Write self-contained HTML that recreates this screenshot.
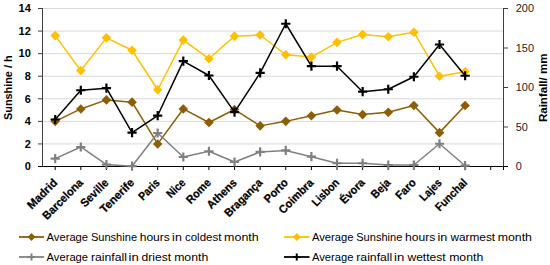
<!DOCTYPE html>
<html><head><meta charset="utf-8"><style>
html,body{margin:0;padding:0;background:#fff;}
body{width:550px;height:265px;overflow:hidden;}
svg{display:block;}
text{font-family:'Liberation Sans',sans-serif;}
</style></head><body>
<svg width="550" height="265" viewBox="0 0 550 265">
<rect width="550" height="265" fill="#fff"/>

<line x1="43" x2="503" y1="143.93" y2="143.93" stroke="#D9D9D9" stroke-width="1"/>
<line x1="43" x2="503" y1="121.36" y2="121.36" stroke="#D9D9D9" stroke-width="1"/>
<line x1="43" x2="503" y1="98.79" y2="98.79" stroke="#D9D9D9" stroke-width="1"/>
<line x1="43" x2="503" y1="76.21" y2="76.21" stroke="#D9D9D9" stroke-width="1"/>
<line x1="43" x2="503" y1="53.64" y2="53.64" stroke="#D9D9D9" stroke-width="1"/>
<line x1="43" x2="503" y1="31.07" y2="31.07" stroke="#D9D9D9" stroke-width="1"/>
<line x1="43" x2="503" y1="8.50" y2="8.50" stroke="#D9D9D9" stroke-width="1"/>
<line x1="42.5" x2="42.5" y1="8.0" y2="166.5" stroke="#404040" stroke-width="1"/>
<line x1="38" x2="42.5" y1="166.50" y2="166.50" stroke="#404040" stroke-width="1"/>
<text x="30.8" y="170.30" text-anchor="end" font-size="10.5" font-weight="bold" fill="#000" textLength="6.1" lengthAdjust="spacingAndGlyphs">0</text>
<line x1="38" x2="42.5" y1="143.93" y2="143.93" stroke="#404040" stroke-width="1"/>
<text x="30.8" y="147.73" text-anchor="end" font-size="10.5" font-weight="bold" fill="#000" textLength="6.1" lengthAdjust="spacingAndGlyphs">2</text>
<line x1="38" x2="42.5" y1="121.36" y2="121.36" stroke="#404040" stroke-width="1"/>
<text x="30.8" y="125.16" text-anchor="end" font-size="10.5" font-weight="bold" fill="#000" textLength="6.1" lengthAdjust="spacingAndGlyphs">4</text>
<line x1="38" x2="42.5" y1="98.79" y2="98.79" stroke="#404040" stroke-width="1"/>
<text x="30.8" y="102.59" text-anchor="end" font-size="10.5" font-weight="bold" fill="#000" textLength="6.1" lengthAdjust="spacingAndGlyphs">6</text>
<line x1="38" x2="42.5" y1="76.21" y2="76.21" stroke="#404040" stroke-width="1"/>
<text x="30.8" y="80.01" text-anchor="end" font-size="10.5" font-weight="bold" fill="#000" textLength="6.1" lengthAdjust="spacingAndGlyphs">8</text>
<line x1="38" x2="42.5" y1="53.64" y2="53.64" stroke="#404040" stroke-width="1"/>
<text x="30.8" y="57.44" text-anchor="end" font-size="10.5" font-weight="bold" fill="#000" textLength="12.3" lengthAdjust="spacingAndGlyphs">10</text>
<line x1="38" x2="42.5" y1="31.07" y2="31.07" stroke="#404040" stroke-width="1"/>
<text x="30.8" y="34.87" text-anchor="end" font-size="10.5" font-weight="bold" fill="#000" textLength="12.3" lengthAdjust="spacingAndGlyphs">12</text>
<line x1="38" x2="42.5" y1="8.50" y2="8.50" stroke="#404040" stroke-width="1"/>
<text x="30.8" y="12.30" text-anchor="end" font-size="10.5" font-weight="bold" fill="#000" textLength="12.3" lengthAdjust="spacingAndGlyphs">14</text>
<line x1="503.5" x2="503.5" y1="8.0" y2="166.5" stroke="#404040" stroke-width="1"/>
<line x1="503.5" x2="508" y1="166.50" y2="166.50" stroke="#404040" stroke-width="1"/>
<text x="515.8" y="170.30" font-size="10.9" fill="#222">0</text>
<line x1="503.5" x2="508" y1="127.00" y2="127.00" stroke="#404040" stroke-width="1"/>
<text x="515.8" y="130.80" font-size="10.9" fill="#222">50</text>
<line x1="503.5" x2="508" y1="87.50" y2="87.50" stroke="#404040" stroke-width="1"/>
<text x="515.8" y="91.30" font-size="10.9" fill="#222">100</text>
<line x1="503.5" x2="508" y1="48.00" y2="48.00" stroke="#404040" stroke-width="1"/>
<text x="515.8" y="51.80" font-size="10.9" fill="#222">150</text>
<line x1="503.5" x2="508" y1="8.50" y2="8.50" stroke="#404040" stroke-width="1"/>
<text x="515.8" y="12.30" font-size="10.9" fill="#222">200</text>
<line x1="38" x2="508" y1="166.5" y2="166.5" stroke="#000" stroke-width="1"/>
<line x1="55.20" x2="55.20" y1="166.5" y2="170.0" stroke="#000" stroke-width="1"/>
<line x1="80.82" x2="80.82" y1="166.5" y2="170.0" stroke="#000" stroke-width="1"/>
<line x1="106.44" x2="106.44" y1="166.5" y2="170.0" stroke="#000" stroke-width="1"/>
<line x1="132.06" x2="132.06" y1="166.5" y2="170.0" stroke="#000" stroke-width="1"/>
<line x1="157.68" x2="157.68" y1="166.5" y2="170.0" stroke="#000" stroke-width="1"/>
<line x1="183.30" x2="183.30" y1="166.5" y2="170.0" stroke="#000" stroke-width="1"/>
<line x1="208.92" x2="208.92" y1="166.5" y2="170.0" stroke="#000" stroke-width="1"/>
<line x1="234.54" x2="234.54" y1="166.5" y2="170.0" stroke="#000" stroke-width="1"/>
<line x1="260.16" x2="260.16" y1="166.5" y2="170.0" stroke="#000" stroke-width="1"/>
<line x1="285.78" x2="285.78" y1="166.5" y2="170.0" stroke="#000" stroke-width="1"/>
<line x1="311.40" x2="311.40" y1="166.5" y2="170.0" stroke="#000" stroke-width="1"/>
<line x1="337.02" x2="337.02" y1="166.5" y2="170.0" stroke="#000" stroke-width="1"/>
<line x1="362.64" x2="362.64" y1="166.5" y2="170.0" stroke="#000" stroke-width="1"/>
<line x1="388.26" x2="388.26" y1="166.5" y2="170.0" stroke="#000" stroke-width="1"/>
<line x1="413.88" x2="413.88" y1="166.5" y2="170.0" stroke="#000" stroke-width="1"/>
<line x1="439.50" x2="439.50" y1="166.5" y2="170.0" stroke="#000" stroke-width="1"/>
<line x1="465.12" x2="465.12" y1="166.5" y2="170.0" stroke="#000" stroke-width="1"/>
<line x1="490.74" x2="490.74" y1="166.5" y2="170.0" stroke="#000" stroke-width="1"/>
<line x1="503.5" x2="503.5" y1="166.5" y2="170.0" stroke="#000" stroke-width="1"/>
<text transform="translate(11.8,87.7) rotate(-90)" text-anchor="middle" font-size="11.2" font-weight="bold" fill="#000" textLength="64.5" lengthAdjust="spacingAndGlyphs">Sunshine / h</text>
<text transform="translate(546.7,87.8) rotate(-90)" text-anchor="middle" font-size="11.3" font-weight="bold" fill="#000" textLength="68.6" lengthAdjust="spacingAndGlyphs">Rainfall/ mm</text>
<text transform="translate(58.10,183.40) rotate(-45)" text-anchor="end" font-size="11.5" font-weight="bold" fill="#000" stroke="#000" stroke-width="0.25" textLength="37.10" lengthAdjust="spacingAndGlyphs">Madrid</text>
<text transform="translate(83.72,183.40) rotate(-45)" text-anchor="end" font-size="11.5" font-weight="bold" fill="#000" stroke="#000" stroke-width="0.25" textLength="51.97" lengthAdjust="spacingAndGlyphs">Barcelona</text>
<text transform="translate(109.34,183.40) rotate(-45)" text-anchor="end" font-size="11.5" font-weight="bold" fill="#000" stroke="#000" stroke-width="0.25" textLength="34.52" lengthAdjust="spacingAndGlyphs">Seville</text>
<text transform="translate(134.96,183.40) rotate(-45)" text-anchor="end" font-size="11.5" font-weight="bold" fill="#000" stroke="#000" stroke-width="0.25" textLength="43.06" lengthAdjust="spacingAndGlyphs">Tenerife</text>
<text transform="translate(160.58,183.40) rotate(-45)" text-anchor="end" font-size="11.5" font-weight="bold" fill="#000" stroke="#000" stroke-width="0.25" textLength="24.86" lengthAdjust="spacingAndGlyphs">Paris</text>
<text transform="translate(186.20,183.40) rotate(-45)" text-anchor="end" font-size="11.5" font-weight="bold" fill="#000" stroke="#000" stroke-width="0.25" textLength="21.52" lengthAdjust="spacingAndGlyphs">Nice</text>
<text transform="translate(211.82,183.40) rotate(-45)" text-anchor="end" font-size="11.5" font-weight="bold" fill="#000" stroke="#000" stroke-width="0.25" textLength="29.77" lengthAdjust="spacingAndGlyphs">Rome</text>
<text transform="translate(237.44,183.40) rotate(-45)" text-anchor="end" font-size="11.5" font-weight="bold" fill="#000" stroke="#000" stroke-width="0.25" textLength="36.92" lengthAdjust="spacingAndGlyphs">Athens</text>
<text transform="translate(263.06,183.40) rotate(-45)" text-anchor="end" font-size="11.5" font-weight="bold" fill="#000" stroke="#000" stroke-width="0.25" textLength="48.24" lengthAdjust="spacingAndGlyphs">Bragança</text>
<text transform="translate(288.68,183.40) rotate(-45)" text-anchor="end" font-size="11.5" font-weight="bold" fill="#000" stroke="#000" stroke-width="0.25" textLength="28.44" lengthAdjust="spacingAndGlyphs">Porto</text>
<text transform="translate(314.30,183.40) rotate(-45)" text-anchor="end" font-size="11.5" font-weight="bold" fill="#000" stroke="#000" stroke-width="0.25" textLength="43.89" lengthAdjust="spacingAndGlyphs">Coimbra</text>
<text transform="translate(339.92,183.40) rotate(-45)" text-anchor="end" font-size="11.5" font-weight="bold" fill="#000" stroke="#000" stroke-width="0.25" textLength="33.30" lengthAdjust="spacingAndGlyphs">Lisbon</text>
<text transform="translate(365.54,183.40) rotate(-45)" text-anchor="end" font-size="11.5" font-weight="bold" fill="#000" stroke="#000" stroke-width="0.25" textLength="29.78" lengthAdjust="spacingAndGlyphs">Évora</text>
<text transform="translate(391.16,183.40) rotate(-45)" text-anchor="end" font-size="11.5" font-weight="bold" fill="#000" stroke="#000" stroke-width="0.25" textLength="22.02" lengthAdjust="spacingAndGlyphs">Beja</text>
<text transform="translate(416.78,183.40) rotate(-45)" text-anchor="end" font-size="11.5" font-weight="bold" fill="#000" stroke="#000" stroke-width="0.25" textLength="23.61" lengthAdjust="spacingAndGlyphs">Faro</text>
<text transform="translate(442.40,183.40) rotate(-45)" text-anchor="end" font-size="11.5" font-weight="bold" fill="#000" stroke="#000" stroke-width="0.25" textLength="26.06" lengthAdjust="spacingAndGlyphs">Lajes</text>
<text transform="translate(468.02,183.40) rotate(-45)" text-anchor="end" font-size="11.5" font-weight="bold" fill="#000" stroke="#000" stroke-width="0.25" textLength="40.05" lengthAdjust="spacingAndGlyphs">Funchal</text>
<polyline points="55.20,121.36 80.82,108.94 106.44,99.91 132.06,102.17 157.68,143.93 183.30,108.94 208.92,122.49 234.54,109.51 260.16,125.87 285.78,121.36 311.40,115.71 337.02,110.07 362.64,114.59 388.26,112.33 413.88,105.56 439.50,132.64 465.12,105.56" fill="none" stroke="#8C5E06" stroke-width="1.5" stroke-linejoin="round"/>
<path d="M55.20 116.56L60.00 121.36L55.20 126.16L50.40 121.36Z" fill="#8C5E06"/>
<path d="M80.82 104.14L85.62 108.94L80.82 113.74L76.02 108.94Z" fill="#8C5E06"/>
<path d="M106.44 95.11L111.24 99.91L106.44 104.71L101.64 99.91Z" fill="#8C5E06"/>
<path d="M132.06 97.37L136.86 102.17L132.06 106.97L127.26 102.17Z" fill="#8C5E06"/>
<path d="M157.68 139.13L162.48 143.93L157.68 148.73L152.88 143.93Z" fill="#8C5E06"/>
<path d="M183.30 104.14L188.10 108.94L183.30 113.74L178.50 108.94Z" fill="#8C5E06"/>
<path d="M208.92 117.69L213.72 122.49L208.92 127.29L204.12 122.49Z" fill="#8C5E06"/>
<path d="M234.54 104.71L239.34 109.51L234.54 114.31L229.74 109.51Z" fill="#8C5E06"/>
<path d="M260.16 121.07L264.96 125.87L260.16 130.67L255.36 125.87Z" fill="#8C5E06"/>
<path d="M285.78 116.56L290.58 121.36L285.78 126.16L280.98 121.36Z" fill="#8C5E06"/>
<path d="M311.40 110.91L316.20 115.71L311.40 120.51L306.60 115.71Z" fill="#8C5E06"/>
<path d="M337.02 105.27L341.82 110.07L337.02 114.87L332.22 110.07Z" fill="#8C5E06"/>
<path d="M362.64 109.79L367.44 114.59L362.64 119.39L357.84 114.59Z" fill="#8C5E06"/>
<path d="M388.26 107.53L393.06 112.33L388.26 117.13L383.46 112.33Z" fill="#8C5E06"/>
<path d="M413.88 100.76L418.68 105.56L413.88 110.36L409.08 105.56Z" fill="#8C5E06"/>
<path d="M439.50 127.84L444.30 132.64L439.50 137.44L434.70 132.64Z" fill="#8C5E06"/>
<path d="M465.12 100.76L469.92 105.56L465.12 110.36L460.32 105.56Z" fill="#8C5E06"/>
<polyline points="55.20,35.59 80.82,70.57 106.44,37.84 132.06,50.26 157.68,89.76 183.30,40.10 208.92,58.72 234.54,36.15 260.16,35.02 285.78,54.77 311.40,57.03 337.02,42.36 362.64,34.46 388.26,36.71 413.88,32.20 439.50,76.21 465.12,71.70" fill="none" stroke="#FFC000" stroke-width="1.5" stroke-linejoin="round"/>
<path d="M55.20 30.79L60.00 35.59L55.20 40.39L50.40 35.59Z" fill="#FFC000"/>
<path d="M80.82 65.77L85.62 70.57L80.82 75.37L76.02 70.57Z" fill="#FFC000"/>
<path d="M106.44 33.04L111.24 37.84L106.44 42.64L101.64 37.84Z" fill="#FFC000"/>
<path d="M132.06 45.46L136.86 50.26L132.06 55.06L127.26 50.26Z" fill="#FFC000"/>
<path d="M157.68 84.96L162.48 89.76L157.68 94.56L152.88 89.76Z" fill="#FFC000"/>
<path d="M183.30 35.30L188.10 40.10L183.30 44.90L178.50 40.10Z" fill="#FFC000"/>
<path d="M208.92 53.92L213.72 58.72L208.92 63.52L204.12 58.72Z" fill="#FFC000"/>
<path d="M234.54 31.35L239.34 36.15L234.54 40.95L229.74 36.15Z" fill="#FFC000"/>
<path d="M260.16 30.22L264.96 35.02L260.16 39.82L255.36 35.02Z" fill="#FFC000"/>
<path d="M285.78 49.97L290.58 54.77L285.78 59.57L280.98 54.77Z" fill="#FFC000"/>
<path d="M311.40 52.23L316.20 57.03L311.40 61.83L306.60 57.03Z" fill="#FFC000"/>
<path d="M337.02 37.56L341.82 42.36L337.02 47.16L332.22 42.36Z" fill="#FFC000"/>
<path d="M362.64 29.66L367.44 34.46L362.64 39.26L357.84 34.46Z" fill="#FFC000"/>
<path d="M388.26 31.91L393.06 36.71L388.26 41.51L383.46 36.71Z" fill="#FFC000"/>
<path d="M413.88 27.40L418.68 32.20L413.88 37.00L409.08 32.20Z" fill="#FFC000"/>
<path d="M439.50 71.41L444.30 76.21L439.50 81.01L434.70 76.21Z" fill="#FFC000"/>
<path d="M465.12 66.90L469.92 71.70L465.12 76.50L460.32 71.70Z" fill="#FFC000"/>
<polyline points="55.20,158.60 80.82,146.99 106.44,164.53 132.06,166.18 157.68,133.00 183.30,157.02 208.92,151.25 234.54,162.00 260.16,151.96 285.78,150.46 311.40,156.70 337.02,163.26 362.64,163.26 388.26,165.00 413.88,165.00 439.50,143.75 465.12,165.71" fill="none" stroke="#808080" stroke-width="1.5" stroke-linejoin="round"/>
<path d="M50.60 158.60H59.80M55.20 154.00V163.20" stroke="#808080" stroke-width="2.2" fill="none"/>
<path d="M76.22 146.99H85.42M80.82 142.39V151.59" stroke="#808080" stroke-width="2.2" fill="none"/>
<path d="M101.84 164.53H111.04M106.44 159.93V169.12" stroke="#808080" stroke-width="2.2" fill="none"/>
<path d="M127.46 166.18H136.66M132.06 161.58V170.78" stroke="#808080" stroke-width="2.2" fill="none"/>
<path d="M153.08 133.00H162.28M157.68 128.40V137.60" stroke="#808080" stroke-width="2.2" fill="none"/>
<path d="M178.70 157.02H187.90M183.30 152.42V161.62" stroke="#808080" stroke-width="2.2" fill="none"/>
<path d="M204.32 151.25H213.52M208.92 146.65V155.85" stroke="#808080" stroke-width="2.2" fill="none"/>
<path d="M229.94 162.00H239.14M234.54 157.40V166.60" stroke="#808080" stroke-width="2.2" fill="none"/>
<path d="M255.56 151.96H264.76M260.16 147.36V156.56" stroke="#808080" stroke-width="2.2" fill="none"/>
<path d="M281.18 150.46H290.38M285.78 145.86V155.06" stroke="#808080" stroke-width="2.2" fill="none"/>
<path d="M306.80 156.70H316.00M311.40 152.10V161.30" stroke="#808080" stroke-width="2.2" fill="none"/>
<path d="M332.42 163.26H341.62M337.02 158.66V167.86" stroke="#808080" stroke-width="2.2" fill="none"/>
<path d="M358.04 163.26H367.24M362.64 158.66V167.86" stroke="#808080" stroke-width="2.2" fill="none"/>
<path d="M383.66 165.00H392.86M388.26 160.40V169.60" stroke="#808080" stroke-width="2.2" fill="none"/>
<path d="M409.28 165.00H418.48M413.88 160.40V169.60" stroke="#808080" stroke-width="2.2" fill="none"/>
<path d="M434.90 143.75H444.10M439.50 139.15V148.35" stroke="#808080" stroke-width="2.2" fill="none"/>
<path d="M460.52 165.71H469.72M465.12 161.11V170.31" stroke="#808080" stroke-width="2.2" fill="none"/>
<polyline points="55.20,119.50 80.82,90.27 106.44,88.13 132.06,132.53 157.68,115.54 183.30,61.19 208.92,75.49 234.54,112.15 260.16,72.88 285.78,23.75 311.40,66.17 337.02,66.17 362.64,91.69 388.26,89.24 413.88,76.76 439.50,44.52 465.12,75.73" fill="none" stroke="#000000" stroke-width="1.5" stroke-linejoin="round"/>
<path d="M50.60 119.50H59.80M55.20 114.90V124.09" stroke="#000000" stroke-width="2.2" fill="none"/>
<path d="M76.22 90.27H85.42M80.82 85.67V94.86" stroke="#000000" stroke-width="2.2" fill="none"/>
<path d="M101.84 88.13H111.04M106.44 83.53V92.73" stroke="#000000" stroke-width="2.2" fill="none"/>
<path d="M127.46 132.53H136.66M132.06 127.93V137.13" stroke="#000000" stroke-width="2.2" fill="none"/>
<path d="M153.08 115.54H162.28M157.68 110.94V120.14" stroke="#000000" stroke-width="2.2" fill="none"/>
<path d="M178.70 61.19H187.90M183.30 56.59V65.79" stroke="#000000" stroke-width="2.2" fill="none"/>
<path d="M204.32 75.49H213.52M208.92 70.89V80.09" stroke="#000000" stroke-width="2.2" fill="none"/>
<path d="M229.94 112.15H239.14M234.54 107.55V116.75" stroke="#000000" stroke-width="2.2" fill="none"/>
<path d="M255.56 72.88H264.76M260.16 68.28V77.48" stroke="#000000" stroke-width="2.2" fill="none"/>
<path d="M281.18 23.75H290.38M285.78 19.15V28.35" stroke="#000000" stroke-width="2.2" fill="none"/>
<path d="M306.80 66.17H316.00M311.40 61.57V70.77" stroke="#000000" stroke-width="2.2" fill="none"/>
<path d="M332.42 66.17H341.62M337.02 61.57V70.77" stroke="#000000" stroke-width="2.2" fill="none"/>
<path d="M358.04 91.69H367.24M362.64 87.09V96.29" stroke="#000000" stroke-width="2.2" fill="none"/>
<path d="M383.66 89.24H392.86M388.26 84.64V93.84" stroke="#000000" stroke-width="2.2" fill="none"/>
<path d="M409.28 76.76H418.48M413.88 72.16V81.36" stroke="#000000" stroke-width="2.2" fill="none"/>
<path d="M434.90 44.52H444.10M439.50 39.92V49.12" stroke="#000000" stroke-width="2.2" fill="none"/>
<path d="M460.52 75.73H469.72M465.12 71.13V80.33" stroke="#000000" stroke-width="2.2" fill="none"/>
<line x1="19" x2="44" y1="237" y2="237" stroke="#8C5E06" stroke-width="1.8"/>
<path d="M31.50 233.10L35.40 237.00L31.50 240.90L27.60 237.00Z" fill="#8C5E06"/>
<line x1="19" x2="44" y1="257" y2="257" stroke="#808080" stroke-width="1.8"/>
<path d="M27.90 257.00H35.10M31.50 253.40V260.60" stroke="#808080" stroke-width="2" fill="none"/>
<line x1="284" x2="309.5" y1="237" y2="237" stroke="#FFC000" stroke-width="1.8"/>
<path d="M296.75 233.10L300.65 237.00L296.75 240.90L292.85 237.00Z" fill="#FFC000"/>
<line x1="284" x2="309.5" y1="257" y2="257" stroke="#000000" stroke-width="1.8"/>
<path d="M293.15 257.00H300.35M296.75 253.40V260.60" stroke="#000000" stroke-width="2" fill="none"/>
<text x="46.60" y="241" font-size="11.6" fill="#000" textLength="41.48" lengthAdjust="spacingAndGlyphs">Average</text>
<text x="90.93" y="241" font-size="11.6" fill="#000" textLength="46.12" lengthAdjust="spacingAndGlyphs">Sunshine</text>
<text x="139.67" y="241" font-size="11.6" fill="#000" textLength="30.27" lengthAdjust="spacingAndGlyphs">hours</text>
<text x="172.14" y="241" font-size="11.6" fill="#000" textLength="9.75" lengthAdjust="spacingAndGlyphs">in</text>
<text x="185.01" y="241" font-size="11.6" fill="#000" textLength="36.35" lengthAdjust="spacingAndGlyphs">coldest</text>
<text x="224.14" y="241" font-size="11.6" fill="#000" textLength="34.66" lengthAdjust="spacingAndGlyphs">month</text>
<text x="46.60" y="261" font-size="11.6" fill="#000" textLength="41.48" lengthAdjust="spacingAndGlyphs">Average</text>
<text x="90.96" y="261" font-size="11.6" fill="#000" textLength="36.06" lengthAdjust="spacingAndGlyphs">rainfall</text>
<text x="128.59" y="261" font-size="11.6" fill="#000" textLength="10.23" lengthAdjust="spacingAndGlyphs">in</text>
<text x="141.48" y="261" font-size="11.6" fill="#000" textLength="29.59" lengthAdjust="spacingAndGlyphs">driest</text>
<text x="174.15" y="261" font-size="11.6" fill="#000" textLength="34.13" lengthAdjust="spacingAndGlyphs">month</text>
<text x="311.90" y="241" font-size="11.6" fill="#000" textLength="41.48" lengthAdjust="spacingAndGlyphs">Average</text>
<text x="356.23" y="241" font-size="11.6" fill="#000" textLength="46.12" lengthAdjust="spacingAndGlyphs">Sunshine</text>
<text x="404.97" y="241" font-size="11.6" fill="#000" textLength="30.27" lengthAdjust="spacingAndGlyphs">hours</text>
<text x="437.43" y="241" font-size="11.6" fill="#000" textLength="9.87" lengthAdjust="spacingAndGlyphs">in</text>
<text x="450.50" y="241" font-size="11.6" fill="#000" textLength="44.63" lengthAdjust="spacingAndGlyphs">warmest</text>
<text x="497.65" y="241" font-size="11.6" fill="#000" textLength="34.34" lengthAdjust="spacingAndGlyphs">month</text>
<text x="311.90" y="261" font-size="11.6" fill="#000" textLength="41.48" lengthAdjust="spacingAndGlyphs">Average</text>
<text x="356.26" y="261" font-size="11.6" fill="#000" textLength="36.06" lengthAdjust="spacingAndGlyphs">rainfall</text>
<text x="394.09" y="261" font-size="11.6" fill="#000" textLength="10.23" lengthAdjust="spacingAndGlyphs">in</text>
<text x="407.50" y="261" font-size="11.6" fill="#000" textLength="38.05" lengthAdjust="spacingAndGlyphs">wettest</text>
<text x="449.15" y="261" font-size="11.6" fill="#000" textLength="34.13" lengthAdjust="spacingAndGlyphs">month</text>
</svg></body></html>
